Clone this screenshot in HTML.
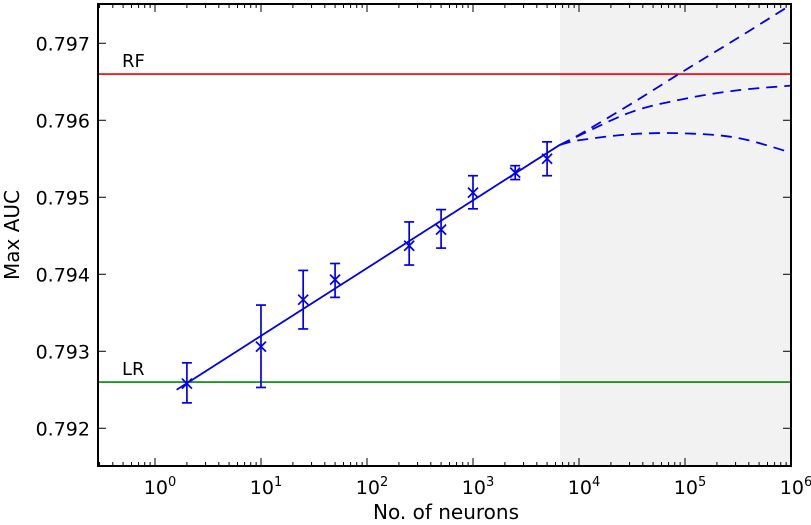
<!DOCTYPE html>
<html><head><meta charset="utf-8"><style>
body{margin:0;background:#fff}
svg{display:block;font-family:"DejaVu Sans","Liberation Sans",sans-serif}
</style></head><body>
<svg id="chart" width="811" height="525"></svg>
<script>
const neurons=[2,10,25,50,250,500,1000,2500,5000];
const aucMean=[0.79258,0.79306,0.79367,0.79393,0.79437,0.79458,0.79506,0.79532,0.7955];
const aucLow=[0.79233,0.79253,0.79329,0.79370,0.79412,0.79434,0.79485,0.79523,0.79528];
const aucHigh=[0.79285,0.79360,0.79405,0.79414,0.79468,0.79484,0.79528,0.79541,0.79572];
const fitRange=[1.6,6600];
const fitIntercept=0.79232, fitSlope=0.00088;
const extrapLogX=[3.82,4,4.5,5,5.5,6];
const extrapUpper=[0.79568,0.79581,0.79622,0.79665,0.79707,0.7975];
const extrapMid=[0.79568,0.79580,0.79611,0.79628,0.79639,0.79645];
const extrapLower=[0.79568,0.79574,0.79582,0.79583,0.79577,0.79558];
const rfAUC=0.7966, lrAUC=0.7926;
const yTicks=[0.792,0.793,0.794,0.795,0.796,0.797];
const xTickExp=[0,1,2,3,4,5,6];
const shadeStart=6600;

const L=98,R=791,T=4,B=466;
const xMinLog=Math.log10(0.29),xMaxLog=6,yMin=0.79151,yMax=0.79751;
const X=v=>L+(Math.log10(v)-xMinLog)/(xMaxLog-xMinLog)*(R-L);
const XL=l=>L+(l-xMinLog)/(xMaxLog-xMinLog)*(R-L);
const Y=v=>B-(v-yMin)/(yMax-yMin)*(B-T);
const svg=document.getElementById('chart');
const NS='http://www.w3.org/2000/svg';
function mk(tag,attrs,parent){const e=document.createElementNS(NS,tag);for(const k in attrs)e.setAttribute(k,attrs[k]);(parent||svg).appendChild(e);return e;}
const clip=mk('clipPath',{id:'pc'});mk('rect',{x:L,y:T,width:R-L,height:B-T},clip);

let e=mk('rect',{x:X(shadeStart),y:T,width:R-X(shadeStart),height:B-T,fill:'#f2f2f2'});



e=mk('line',{x1:L,x2:R,y1:Y(rfAUC),y2:Y(rfAUC),stroke:'#e00',"stroke-width":1.6});


e=mk('line',{x1:L,x2:R,y1:Y(lrAUC),y2:Y(lrAUC),stroke:'#080',"stroke-width":1.6});


e=mk('text',{x:122,y:Y(rfAUC)-7,"font-size":18,fill:'#000'});e.textContent='RF';


e=mk('text',{x:122,y:Y(lrAUC)-7,"font-size":18,fill:'#000'});e.textContent='LR';



e=mk('line',{x1:X(fitRange[0]),x2:X(fitRange[1]),y1:Y(fitIntercept+fitSlope*Math.log10(fitRange[0])),y2:Y(fitIntercept+fitSlope*Math.log10(fitRange[1])),stroke:'#00e',"stroke-width":1.8});



function spline(xs,ys){const p=xs.map((l,i)=>[XL(l),Y(ys[i])]);let d=`M${p[0][0]},${p[0][1]}`;
for(let i=0;i<p.length-1;i++){const p0=p[Math.max(0,i-1)],p1=p[i],p2=p[i+1],p3=p[Math.min(p.length-1,i+2)];
d+=` C${p1[0]+(p2[0]-p0[0])/6},${p1[1]+(p2[1]-p0[1])/6} ${p2[0]-(p3[0]-p1[0])/6},${p2[1]-(p3[1]-p1[1])/6} ${p2[0]},${p2[1]}`;}return d;}
[['extrapolation-upper',extrapUpper],['extrapolation-middle',extrapMid],['extrapolation-lower',extrapLower]].forEach(([n,arr])=>{
const p=mk('path',{d:spline(extrapLogX,arr),fill:'none',stroke:'#00e',"stroke-width":1.8,"stroke-dasharray":'11,7',"clip-path":'url(#pc)'});

});

neurons.forEach((n,i)=>{const g=mk('g',{stroke:'#00e',"stroke-width":1.7});


const x=X(n),y=Y(aucMean[i]),y1=Y(aucHigh[i]),y2=Y(aucLow[i]);
mk('line',{x1:x,x2:x,y1:y1,y2:y2},g);mk('line',{x1:x-5,x2:x+5,y1:y1,y2:y1},g);mk('line',{x1:x-5,x2:x+5,y1:y2,y2:y2},g);
mk('line',{x1:x-5,x2:x+5,y1:y-5,y2:y+5},g);mk('line',{x1:x-5,x2:x+5,y1:y+5,y2:y-5},g);});

const ax=mk('g',{stroke:'#000',"stroke-width":1});


for(let d=-1;d<6;d++)for(let m=1;m<10;m++){const l=d+Math.log10(m);if(l<xMinLog||l>xMaxLog)continue;const x=XL(l),len=m===1?8:4;
mk('line',{x1:x,x2:x,y1:B,y2:B-len},ax);mk('line',{x1:x,x2:x,y1:T,y2:T+len},ax);}
yTicks.forEach(v=>{const y=Y(v);mk('line',{x1:L,x2:L+8,y1:y,y2:y},ax);mk('line',{x1:R,x2:R-8,y1:y,y2:y},ax);
const t=mk('text',{x:L-8,y:y+7,"text-anchor":'end',"font-size":19,stroke:'none',fill:'#000'});t.textContent=v.toFixed(3);

});
xTickExp.forEach(k=>{const x=XL(k);const t=mk('text',{x:x+5,y:494,"text-anchor":'middle',"font-size":19,fill:'#000'});


t.textContent='10';const s=mk('tspan',{dy:-8,"font-size":13},t);s.textContent=k;});
mk('rect',{x:L,y:T,width:R-L,height:B-T,fill:'none',stroke:'#000',"stroke-width":2});
e=mk('text',{x:446,y:519,"text-anchor":'middle',"font-size":20,fill:'#000'});e.textContent='No. of neurons';


e=mk('text',{x:0,y:0,"text-anchor":'middle',"font-size":20,fill:'#000',transform:'translate(19,235) rotate(-90)'});e.textContent='Max AUC';


</script>
</body></html>
